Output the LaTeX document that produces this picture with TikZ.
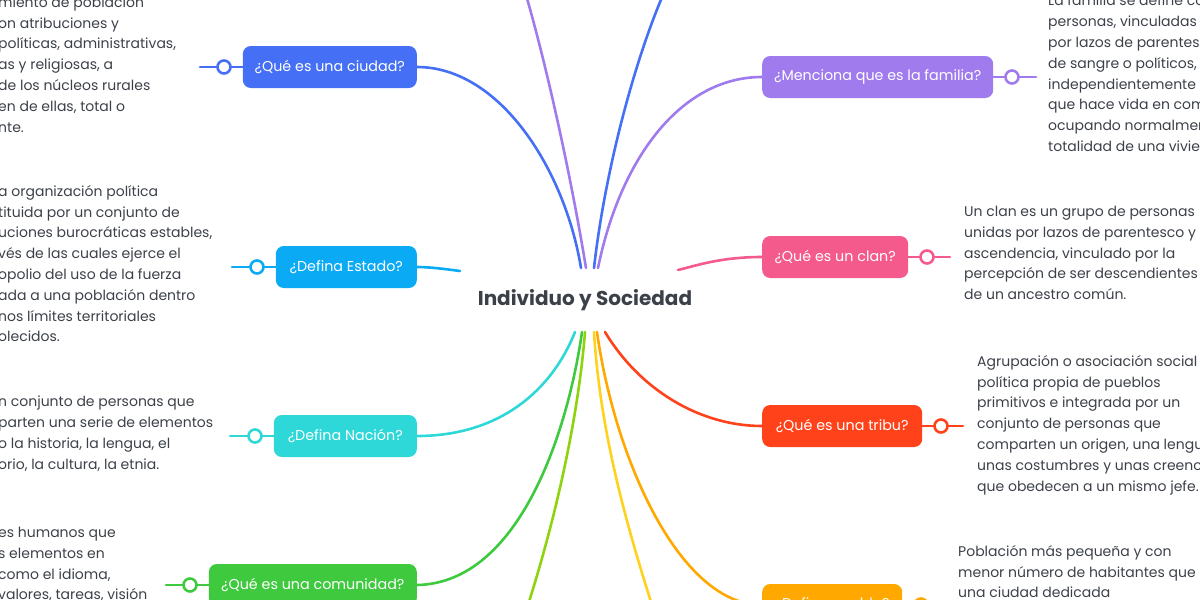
\documentclass[tikz,border=0pt]{standalone}
\usepackage{fontspec}
\setmainfont{Poppins}
\begin{document}
\begin{tikzpicture}[x=1pt,y=-1pt,
  q/.style={rounded corners=8pt,text=white,minimum height=42pt,inner xsep=4pt,font=\fontsize{14.3}{16}\selectfont},
  desc/.style={anchor=north west,inner sep=0pt,align=left,text=txt,font=\fontsize{14}{20.8}\selectfont},
  br/.style={line width=2.6pt,line cap=round},
  knob/.style={circle,draw,line width=2.6pt,fill=white,minimum size=13pt,inner sep=0pt}]
\definecolor{txt}{HTML}{3C4149}
\definecolor{cBlue}{HTML}{4570F5}
\definecolor{cSky}{HTML}{0AAAF5}
\definecolor{cCyan}{HTML}{2ED8D8}
\definecolor{cGreen}{HTML}{3EC93E}
\definecolor{cLime}{HTML}{8ED40E}
\definecolor{cYel}{HTML}{FFD21E}
\definecolor{cOr}{HTML}{FFA800}
\definecolor{cRed}{HTML}{FF421A}
\definecolor{cPink}{HTML}{F55A8C}
\definecolor{cPur}{HTML}{A07BEE}
\useasboundingbox (0,0) rectangle (1200,600);
\clip (0,0) rectangle (1200,600);

\node[font=\bfseries\fontsize{20}{22}\selectfont,text=txt] (root) at (585,300) {Individuo y Sociedad};
\coordinate (t1) at (581,268); \coordinate (t2) at (586,268); \coordinate (t3) at (594,268); \coordinate (t4) at (598,268);
\coordinate (b1) at (575,332); \coordinate (b2) at (582,332); \coordinate (b3) at (585,332); \coordinate (b4) at (594,332); \coordinate (b5) at (597,332); \coordinate (b6) at (605,332);
\coordinate (upP) at (526,-5); \coordinate (upB) at (663,-5); \coordinate (dnL) at (528,605); \coordinate (dnY) at (652,605);
\coordinate (estE) at (460,271); \coordinate (clanE) at (678,270);

% nodes
\node[q,fill=cBlue,minimum width=174pt,anchor=east] (ciudad) at (417,67) {¿Qué es una ciudad?};
\node[q,fill=cSky,minimum width=141pt,anchor=east] (estado) at (417,267) {¿Defina Estado?};
\node[q,fill=cCyan,minimum width=143pt,anchor=east] (nacion) at (417,436) {¿Defina Nación?};
\node[q,fill=cGreen,minimum width=208pt,anchor=east] (comun) at (417,585) {¿Qué es una comunidad?};
\node[q,fill=cPur,minimum width=231pt,anchor=west] (familia) at (762,77) {¿Menciona que es la familia?};
\node[q,fill=cPink,minimum width=146pt,anchor=west] (clan) at (762,257) {¿Qué es un clan?};
\node[q,fill=cRed,minimum width=160pt,anchor=west] (tribu) at (762,426) {¿Qué es una tribu?};
\node[q,fill=cOr,minimum width=140pt,anchor=west] (pueblo) at (762,605) {¿Defina pueblo?};

% connectors
\draw[br,cPur] (t2) .. controls (570,170) and (545,60) .. (upP);
\draw[br,cBlue] (t3) .. controls (605,170) and (635,60) .. (upB);
\draw[br,cBlue] (ciudad.east) .. controls (500,67) and (565,170) .. (t1);
\draw[br,cPur] (familia.west) .. controls (680,77) and (620,160) .. (t4);
\draw[br,cSky] (estado.east) .. controls (430,267) and (445,269) .. (estE);
\draw[br,cPink] (clan.west) .. controls (720,257) and (695,266) .. (clanE);
\draw[br,cCyan] (nacion.east) .. controls (500,436) and (552,390) .. (b1);
\draw[br,cGreen] (comun.east) .. controls (520,583) and (568,430) .. (b2);
\draw[br,cLime] (b3) .. controls (578,420) and (555,520) .. (dnL);
\draw[br,cYel] (b4) .. controls (600,430) and (625,520) .. (dnY);
\draw[br,cOr] (b5) .. controls (615,460) and (680,605) .. (pueblo.west);
\draw[br,cRed] (b6) .. controls (640,390) and (700,426) .. (tribu.west);

% knobs
\foreach \n/\c/\y/\a/\b in {ciudad/cBlue/67/224/200, estado/cSky/267/257/232, nacion/cCyan/436/255/230, comun/cGreen/585/190/166}{
  \draw[br,\c] (\n.west) -- (\b,\y);
  \node[knob,draw=\c] (k\n) at (\a,\y) {};
}
\foreach \n/\c/\y/\a/\b in {familia/cPur/77/1012/1036, clan/cPink/257/927/950, tribu/cRed/426/941/963, pueblo/cOr/605/921/944}{
  \draw[br,\c] (\n.east) -- (\b,\y);
  \node[knob,draw=\c] (k\n) at (\a,\y) {};
}

% descriptions
\node[desc] (dciudad) at (-2,-4) {miento de población\\on atribuciones y\\ políticas, administrativas,\\as y religiosas, a\\ de los núcleos rurales\\en de ellas, total o\\nte.};
\node[desc] (destado) at (-2,185) {a organización política\\tituida por un conjunto de\\uciones burocráticas estables,\\vés de las cuales ejerce el\\opolio del uso de la fuerza\\ada a una población dentro\\nos límites territoriales\\olecidos.};
\node[desc] (dnacion) at (-2,396) {n conjunto de personas que\\parten una serie de elementos\\o la historia, la lengua, el\\orio, la cultura, la etnia.};
\node[desc] (dcomun) at (-2,527) {es humanos que\\s elementos en\\ como el idioma,\\valores, tareas, visión};
\node[desc] (dfamilia) at (1048,-5) {La familia se define como\\personas, vinculadas entre sí\\por lazos de parentesco,\\de sangre o políticos,\\independientemente de\\que hace vida en común,\\ocupando normalmente la\\totalidad de una vivienda.};
\node[desc] (dclan) at (964,206) {Un clan es un grupo de personas\\unidas por lazos de parentesco y\\ascendencia, vinculado por la\\percepción de ser descendientes\\de un ancestro común.};
\node[desc] (dtribu) at (977,355) {Agrupación o asociación social y\\política propia de pueblos\\primitivos e integrada por un\\conjunto de personas que\\comparten un origen, una lengua,\\unas costumbres y unas creencias,\\que obedecen a un mismo jefe.};
\node[desc] (dpueblo) at (958,545) {Población más pequeña y con\\menor número de habitantes que\\una ciudad dedicada};
\end{tikzpicture}
\end{document}
